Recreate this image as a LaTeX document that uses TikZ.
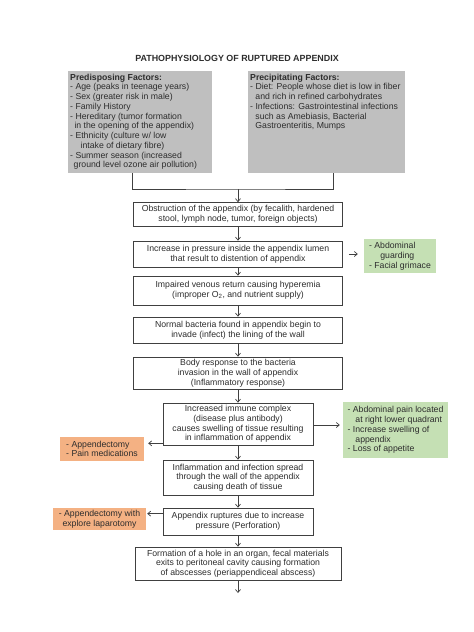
\documentclass[tikz,border=0pt]{standalone}
\usepackage{fontspec}
\setmainfont{Liberation Sans}
\usepackage{xcolor}
\definecolor{appLine}{RGB}{64, 64, 64}
\definecolor{appText}{RGB}{45, 45, 45}
\definecolor{appGray}{RGB}{191, 191, 191}
\definecolor{appGreen}{RGB}{197, 224, 180}
\definecolor{appOrange}{RGB}{244, 177, 131}
\usepackage{tikz}
\usetikzlibrary{
    arrows.meta,
    positioning,
    calc
}

\begin{document}
\begin{tikzpicture}[
    x=1pt, y=-1pt,
    every node/.style={font=\fontsize{8.7}{9.75}\selectfont, text=appText},
    flowStep/.style={
        rectangle,
        draw=appLine, line width=0.7pt,
        fill=white,
        align=center, inner sep=1.5pt, minimum width=209, minimum height=26
    },
    factorBox/.style={
        rectangle,
        fill=appGray,
        inner sep=2pt, anchor=north west
    },
    signBox/.style={
        rectangle,
        fill=appGreen,
        align=left, inner sep=1.5pt
    },
    careBox/.style={
        rectangle,
        fill=appOrange,
        inner sep=1.5pt
    },
    flowArrow/.style={
        -{Straight Barb[length=3pt, width=5pt]}, line width=0.7pt, draw=appLine
    },
    flowLine/.style={
        line width=0.7pt, draw=appLine
    }
]
    \useasboundingbox (0,0) rectangle (474,632);

    % Title
    \node[font=\bfseries\fontsize{8.9}{10}\selectfont] (title) at (237,58) {PATHOPHYSIOLOGY OF RUPTURED APPENDIX};

    % Factors
    \node[factorBox, minimum width=144, minimum height=102] (predisp) at (68,71) {\parbox[t][97pt][t]{140pt}{%
        \textbf{Predisposing Factors:}\\
        - Age (peaks in teenage years)\\
        - Sex (greater risk in male)\\
        - Family History\\
        - Hereditary (tumor formation\\
        \hspace*{0.5em}in the opening of the appendix)\\
        - Ethnicity (culture w/ low\\
        \hspace*{1.2em}intake of dietary fibre)\\
        - Summer season (increased\\
        \hspace*{0.4em}ground level ozone air pollution)}};
    \node[factorBox, minimum width=157, minimum height=102] (precip) at (248,71) {\parbox[t][97pt][t]{153pt}{%
        \textbf{Precipitating Factors:}\\
        - Diet: People whose diet is low in fiber\\
        \hspace*{0.6em}and rich in refined carbohydrates\\
        - Infections: Gastrointestinal infections\\
        \hspace*{0.6em}such as Amebiasis, Bacterial\\
        \hspace*{0.6em}Gastroenteritis, Mumps}};

    % Main flow
    \node[flowStep, minimum height=24] (obstr) at (238,214.5) {Obstruction of the appendix (by fecalith, hardened\\stool, lymph node, tumor, foreign objects)};
    \node[flowStep] (press) at (238,254) {Increase in pressure inside the appendix lumen\\that result to distention of appendix};
    \node[flowStep, minimum height=29] (venous) at (238,290.5) {Impaired venous return causing hyperemia\\(improper O\textsubscript{2}, and nutrient supply)};
    \node[flowStep] (bacteria) at (238,330) {Normal bacteria found in appendix begin to\\invade (infect) the lining of the wall};
    \node[flowStep, minimum height=32] (response) at (238,373) {Body response to the bacteria\\invasion in the wall of appendix\\(Inflammatory response)};
    \node[flowStep, minimum width=150, minimum height=42] (immune) at (238,424) {Increased immune complex\\(disease plus antibody)\\causes swelling of tissue resulting\\in inflammation of appendix};
    \node[flowStep, minimum width=150, minimum height=35] (spread) at (238,477.5) {Inflammation and infection spread\\through the wall of the appendix\\causing death of tissue};
    \node[flowStep, minimum width=150, minimum height=27] (rupture) at (238,521.5) {Appendix ruptures due to increase\\pressure (Perforation)};
    \node[flowStep, minimum width=206, minimum height=33] (hole) at (238,563.5) {Formation of a hole in an organ, fecal materials\\exits to peritoneal cavity causing formation\\of abscesses (periappendiceal abscess)};
    \coordinate (flowEnd) at (238,593);

    % Signs and care
    \node[signBox, minimum width=72, minimum height=34] (signsA) at (400,256) {- Abdominal\\\hspace*{1.3em}guarding\\- Facial grimace};
    \node[signBox, minimum width=105, minimum height=56] (signsB) at (395.5,430) {- Abdominal pain located\\\hspace*{0.9em}at right lower quadrant\\- Increase swelling of\\\hspace*{0.9em}appendix\\- Loss of appetite};
    \node[careBox, align=left, minimum width=84, minimum height=24] (careA) at (102,449) {- Appendectomy\\- Pain medications};
    \node[careBox, align=center, minimum width=93, minimum height=22] (careB) at (99.5,519) {- Appendectomy with\\explore laparotomy};

    % Flows
    \coordinate (factorJoin) at (238,189);
    \draw[flowLine] ([xshift=-8pt]predisp.south) |- (factorJoin) -| ([xshift=6.5pt]precip.south);
    \draw[flowArrow] (factorJoin) -- (obstr);
    \draw[flowArrow] (obstr) -- (press);
    \draw[flowArrow] (press) -- (venous);
    \draw[flowArrow] (venous) -- (bacteria);
    \draw[flowArrow] (bacteria) -- (response);
    \draw[flowArrow] (response) -- (immune);
    \draw[flowArrow] (immune) -- (spread);
    \draw[flowArrow] (spread) -- (rupture);
    \draw[flowArrow] (rupture) -- (hole);
    \draw[flowArrow] (hole) -- (flowEnd);

    \draw[flowArrow, shorten <=6pt, shorten >=6pt] (press.east) -- (press.east -| signsA.west);
    \draw[flowArrow, shorten >=3pt] ([yshift=-1pt]immune.east) -- ([yshift=-1pt]immune.east -| signsB.west);
    \draw[flowArrow, shorten >=4pt] ([yshift=2pt]immune.south west) -- ([yshift=2pt]immune.south west -| careA.east);
    \draw[flowArrow, shorten >=1pt] ([yshift=-6pt]rupture.north west) -- ([yshift=-6pt]rupture.north west -| careB.east);

\end{tikzpicture}
\end{document}
